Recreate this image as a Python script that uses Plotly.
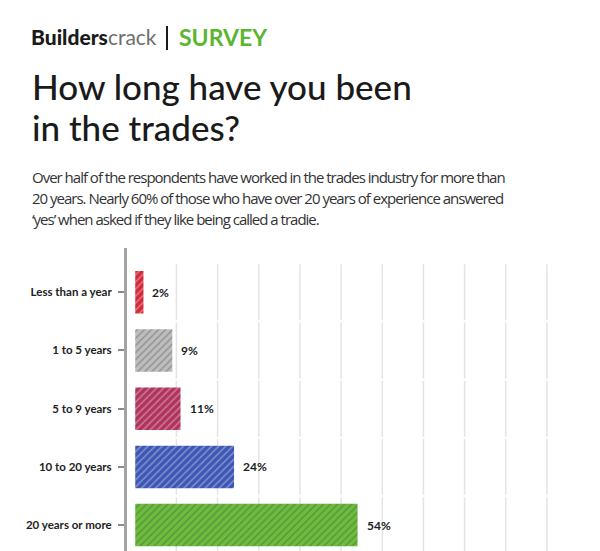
import plotly.graph_objects as go

categories = ["Less than a year", "1 to 5 years", "5 to 9 years", "10 to 20 years", "20 years or more"]
values = [2, 9, 11, 24, 54]
colors = ["#d22a3a", "#bdbdbd", "#b0335e", "#3e56b4", "#6cbd3c"]
grid_ticks = [10, 20, 30, 40, 50, 60, 70, 80, 90, 100]
subtitle_lines = [
    "Over half of the respondents have worked in the trades industry for more than",
    "20 years. Nearly 60% of those who have over 20 years of experience answered",
    "‘yes’ when asked if they like being called a tradie.",
]

fig = go.Figure()
fig.add_trace(go.Bar(
    y=list(range(len(categories))), x=values, orientation="h",
    marker=dict(color=colors, line=dict(width=0),
                pattern=dict(shape="/", fillmode="overlay", fgcolor="white",
                             fgopacity=0.35, size=5, solidity=0.3)),
    width=0.73, hoverinfo="skip", showlegend=False,
))

shapes = []
for i in range(len(categories)):
    for g in grid_ticks:
        shapes.append(dict(type="line", xref="x", yref="y", x0=g, x1=g,
                           y0=i - 0.48, y1=i + 0.48, layer="below",
                           line=dict(color="#e4e4e4", width=1.5)))

annotations = []
for i, v in enumerate(values):
    annotations.append(dict(x=v, y=i, xref="x", yref="y", text=f"<b>{v}%</b>",
                            showarrow=False, xanchor="left", xshift=7,
                            font=dict(family="Lato", size=12, color="#222")))

H = 303.0
def py(p):
    return (551 - p) / H

def px(p):
    return (p - 127) / 422.0

annotations += [
    dict(xref="paper", yref="paper", x=px(29), y=py(37), xanchor="left", yanchor="middle",
         text="<span style='font-weight:900'>Builders</span><span style='color:#6e6e6e'>crack</span>",
         showarrow=False, font=dict(family="Lato", size=21, color="#1a1a1a")),
    dict(xref="paper", yref="paper", x=px(177), y=py(37), xanchor="left", yanchor="middle",
         text="<b>SURVEY</b>", showarrow=False,
         font=dict(family="Lato", size=23, color="#5cb531")),
    dict(xref="paper", yref="paper", x=px(30), y=py(86), xanchor="left", yanchor="middle",
         text="How long have you been", showarrow=False,
         font=dict(family="Lato", size=35, color="#1a1a1a", weight=500)),
    dict(xref="paper", yref="paper", x=px(30), y=py(127), xanchor="left", yanchor="middle",
         text="in the trades?", showarrow=False,
         font=dict(family="Lato", size=35, color="#1a1a1a", weight=500)),
]
for k, line in enumerate(subtitle_lines):
    annotations.append(dict(
        xref="paper", yref="paper", x=px(30), y=py(177 + 21 * k), xanchor="left", yanchor="middle",
        text=f"<span style='letter-spacing:-1px'>{line}</span>",
        showarrow=False, font=dict(family="Open Sans", size=15, color="#333")))

shapes.append(dict(type="line", xref="paper", yref="paper", x0=px(167), x1=px(167),
                   y0=py(26), y1=py(50), line=dict(color="#1a1a1a", width=2)))

fig.update_layout(
    width=600, height=551,
    margin=dict(l=127, r=51, t=248, b=0),
    paper_bgcolor="white", plot_bgcolor="white",
    xaxis=dict(range=[-2, 100.5], showgrid=False, zeroline=False, showticklabels=False,
               showline=False, fixedrange=True),
    yaxis=dict(range=[4.445, -0.76], tickmode="array", tickvals=list(range(len(categories))),
               ticktext=[f"<b>{c}</b>" for c in categories], showgrid=False, zeroline=False,
               showline=True, linecolor="#a3a3a3", linewidth=3,
               ticks="outside", ticklen=6, tickwidth=1.5, tickcolor="#8a8a8a",
               ticklabelstandoff=4,
               tickfont=dict(family="Lato", size=11.5, color="#222"), fixedrange=True),
    shapes=shapes, annotations=annotations,
    bargap=0.27,
)

fig.write_html("out.html")
